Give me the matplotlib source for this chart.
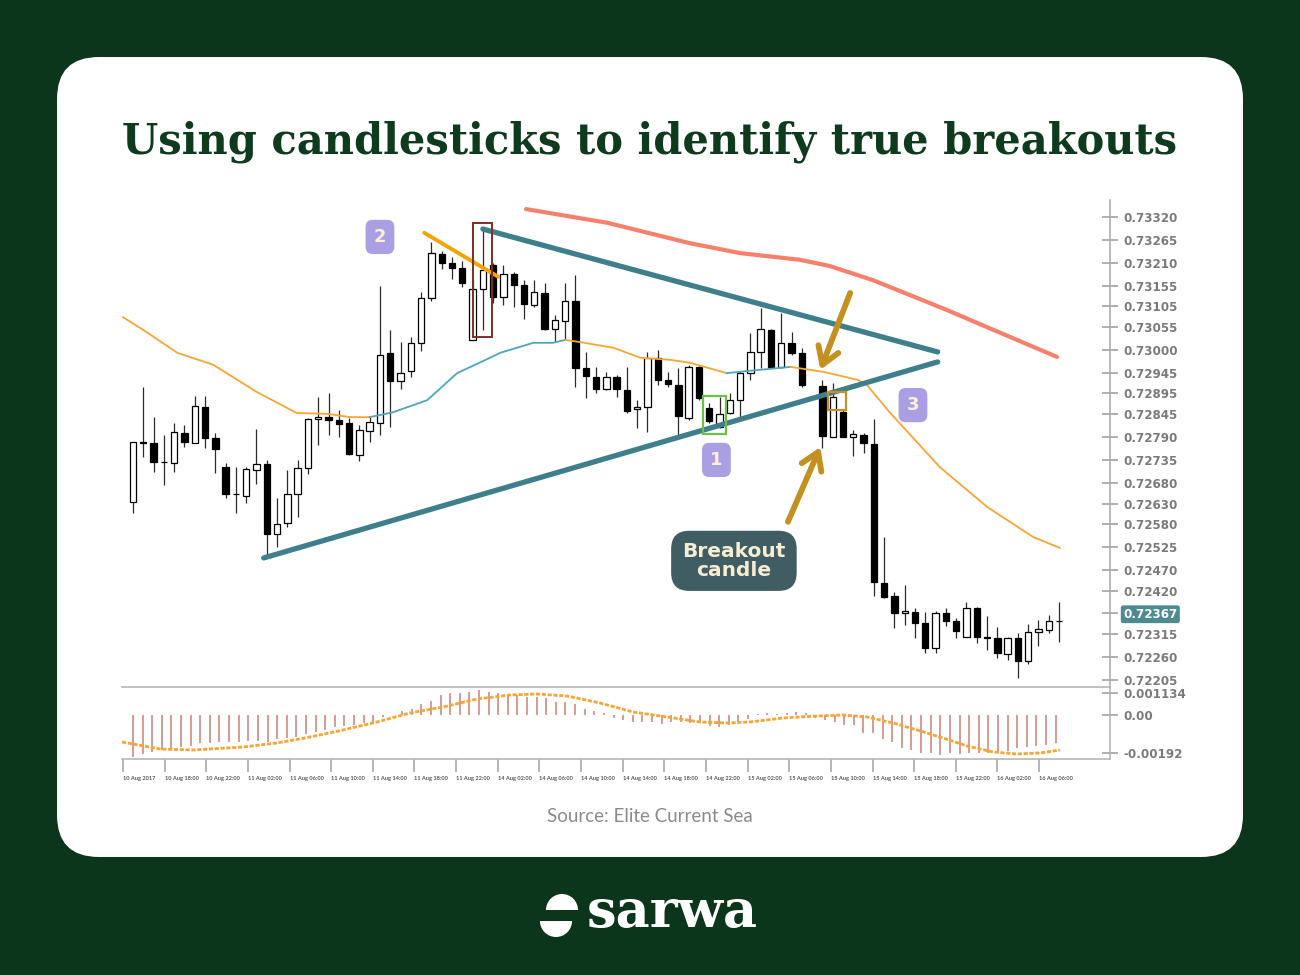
import numpy as np
import matplotlib
matplotlib.use('Agg')
import matplotlib.pyplot as plt
from matplotlib.patches import FancyBboxPatch, Rectangle, Wedge

# ---------------- data ----------------
nan = np.nan
opens = [0.72634, 0.72778, 0.72776, 0.72730, 0.72728, 0.72800, 0.72776, 0.72863, 0.72788, 0.72718,
         0.72653, 0.72648, 0.72711, 0.72725, 0.72557, 0.72583, 0.72653, 0.72716, 0.72834, 0.72838,
         0.72831, 0.72824, 0.72747, 0.72805, 0.72824, 0.72993, 0.72925, 0.72949, 0.73017, 0.73125,
         0.73231, 0.73209, 0.73197, 0.73024, 0.73147, 0.73204, 0.73127, 0.73183, 0.73156, 0.73108,
         0.73137, 0.73050, 0.73070, 0.73118, 0.72956, 0.72935, 0.72906, 0.72935, 0.72903, 0.72858,
         0.72863, 0.72981, 0.72928, 0.72916, 0.72836, 0.72959, 0.72860, 0.72814, 0.72848, 0.72879,
         0.72944, 0.72995, 0.73048, 0.72959, 0.73017, 0.72993, nan, 0.72913, 0.72790, 0.72850,
         0.72790, 0.72795, 0.72773, 0.72439, 0.72407, 0.72366, 0.72369, 0.72342, 0.72282, 0.72366,
         0.72347, 0.72309, 0.72379, 0.72309, 0.72306, 0.72268, 0.72306, 0.72251, 0.72321, 0.72326,
         0.72347]
highs = [0.72778, 0.72911, 0.72838, 0.72795, 0.72824, 0.72819, 0.72889, 0.72889, 0.72800, 0.72728,
         0.72718, 0.72718, 0.72810, 0.72735, 0.72643, 0.72711, 0.72735, 0.72836, 0.72887, 0.72896,
         0.72855, 0.72836, 0.72819, 0.72838, 0.73154, 0.73048, 0.73019, 0.73031, 0.73139, 0.73260,
         0.73238, 0.73224, 0.73214, 0.73168, 0.73294, 0.73209, 0.73204, 0.73188, 0.73168, 0.73168,
         0.73161, 0.73084, 0.73161, 0.73180, 0.72995, 0.72959, 0.72947, 0.72940, 0.72959, 0.72879,
         0.72995, 0.73000, 0.72947, 0.72956, 0.72964, 0.72960, 0.72872, 0.72887, 0.72896, 0.72949,
         0.73041, 0.73101, 0.73050, 0.73089, 0.73043, 0.73005, nan, 0.72928, 0.72920, 0.72855,
         0.72807, 0.72800, 0.72834, 0.72549, 0.72417, 0.72434, 0.72379, 0.72369, 0.72371, 0.72379,
         0.72354, 0.72393, 0.72381, 0.72359, 0.72333, 0.72309, 0.72318, 0.72340, 0.72350, 0.72362,
         0.72393]
lows = [0.72607, 0.72742, 0.72706, 0.72675, 0.72706, 0.72766, 0.72776, 0.72764, 0.72704, 0.72643,
        0.72607, 0.72631, 0.72677, 0.72499, 0.72525, 0.72574, 0.72598, 0.72701, 0.72771, 0.72795,
        0.72790, 0.72747, 0.72733, 0.72778, 0.72795, 0.72814, 0.72906, 0.72935, 0.72997, 0.73118,
        0.73195, 0.73171, 0.73151, 0.73024, 0.73048, 0.73113, 0.73108, 0.73103, 0.73074, 0.73103,
        0.73048, 0.73019, 0.73024, 0.72911, 0.72884, 0.72896, 0.72903, 0.72887, 0.72848, 0.72812,
        0.72802, 0.72916, 0.72911, 0.72795, 0.72831, 0.72879, 0.72824, 0.72812, 0.72846, 0.72838,
        0.72928, 0.72956, 0.72959, 0.72956, 0.72988, 0.72911, nan, 0.72764, 0.72790, 0.72790,
        0.72745, 0.72752, 0.72407, 0.72403, 0.72330, 0.72338, 0.72306, 0.72270, 0.72270, 0.72335,
        0.72306, 0.72309, 0.72294, 0.72277, 0.72258, 0.72253, 0.72210, 0.72244, 0.72287, 0.72318,
        0.72297]
closes = [0.72778, 0.72776, 0.72730, 0.72729, 0.72802, 0.72778, 0.72865, 0.72788, 0.72761, 0.72653,
          0.72652, 0.72713, 0.72725, 0.72557, 0.72581, 0.72653, 0.72716, 0.72834, 0.72838, 0.72831,
          0.72822, 0.72749, 0.72807, 0.72826, 0.72988, 0.72925, 0.72944, 0.73017, 0.73125, 0.73233,
          0.73209, 0.73197, 0.73161, 0.73147, 0.73192, 0.73127, 0.73183, 0.73156, 0.73111, 0.73139,
          0.73050, 0.73072, 0.73118, 0.72956, 0.72937, 0.72906, 0.72935, 0.72906, 0.72853, 0.72863,
          0.72981, 0.72928, 0.72918, 0.72841, 0.72959, 0.72884, 0.72829, 0.72846, 0.72879, 0.72944,
          0.72995, 0.73050, 0.72959, 0.73017, 0.72993, 0.72916, nan, 0.72793, 0.72887, 0.72790,
          0.72798, 0.72776, 0.72441, 0.72405, 0.72366, 0.72371, 0.72342, 0.72282, 0.72366, 0.72347,
          0.72323, 0.72379, 0.72309, 0.72307, 0.72270, 0.72306, 0.72251, 0.72321, 0.72328, 0.72347,
          0.72346]

# moving average (short) - positions in candle slots
ma_x = [-1.0, 1.0, 4.3, 7.8, 12.0, 15.9, 18.9, 21.1, 23.0, 25.3, 28.6, 31.5, 34.7, 35.7, 38.9, 40.8,
        42.0, 43.4, 46.7, 49.3, 52.2, 54.1, 57.7, 60.9, 63.9, 67.1, 70.4, 71.3, 73.6, 78.4, 83.0,
        87.5, 90.1]
ma_y = [0.73079, 0.73048, 0.72993, 0.72964, 0.72899, 0.72848, 0.72846, 0.72838, 0.72838, 0.72850,
        0.72879, 0.72944, 0.72981, 0.72993, 0.73017, 0.73017, 0.73024, 0.73019, 0.73005, 0.72981,
        0.72976, 0.72969, 0.72944, 0.72952, 0.72959, 0.72947, 0.72928, 0.72916, 0.72848, 0.72718,
        0.72622, 0.72549, 0.72523]
ma_runs = [(0, 8, 'orange'), (8, 16, 'blue'), (16, 22, 'orange'), (22, 24, 'blue'), (24, 32, 'orange')]

# long moving average
lma_x = [38.2, 46.1, 54.1, 59.0, 64.8, 67.7, 71.9, 79.1, 84.3, 89.8]
lma_y = [0.73339, 0.73306, 0.73257, 0.73233, 0.73217, 0.73202, 0.73168, 0.73096, 0.73041, 0.72983]

# triangle trend lines
upper_x = [34.0, 78.2]
upper_y = [0.73291, 0.72995]
lower_x = [12.7, 78.2]
lower_y = [0.72499, 0.72971]
short_x = [28.3, 35.5]
short_y = [0.73282, 0.73176]

# oscillator histogram and signal line
osc = [-2.138, -1.985, -1.883, -1.782, -1.680, -1.629, -1.578, -1.425, -1.425, -1.374,
       -1.374, -1.374, -1.323, -1.323, -1.350, -1.222, -1.171, -1.120, -0.967, -0.865,
       -0.764, -0.611, -0.560, -0.509, -0.407, -0.356, -0.102, 0.020, 0.204, 0.305,
       0.560, 0.713, 1.018, 1.120, 1.120, 1.171, 1.273, 1.171, 1.120, 1.069,
       1.018, 0.916, 0.916, 0.865, 0.662, 0.662, 0.560, 0.305, 0.204, 0.102,
       -0.153, -0.255, -0.356, -0.356, -0.356, -0.458, -0.356, -0.356, -0.407, -0.407,
       -0.560, -0.611, -0.509, -0.356, -0.204, 0.051, 0.102, 0.030, 0.102, 0.153,
       0.102, -0.153, -0.255, -0.356, -0.509, -0.509, -0.916, -0.916, -1.222, -1.374,
       -1.680, -1.782, -1.934, -1.934, -2.036, -1.934, -1.985, -1.934, -1.934, -1.934,
       -1.883, -1.832, -1.680, -1.629, -1.578, -1.527, -1.425]
sig_x = [-1.14, 2.81, 6.24, 11.45, 14.98, 18.42, 21.85, 25.39, 28.82, 32.26, 35.80, 39.23, 42.04,
         45.16, 48.60, 52.03, 55.57, 59.00, 61.81, 64.20, 67.64, 71.18, 73.88, 76.38, 79.08, 81.58,
         84.29, 86.78, 89.49, 91.99, 94.38, 96.46]
sig_y = [-1.374, -1.731, -1.782, -1.629, -1.425, -1.120, -0.764, -0.356, 0.102, 0.407, 0.814, 1.018,
         1.069, 0.967, 0.611, 0.153, -0.102, -0.356, -0.407, -0.356, -0.153, -0.051, 0.0, -0.102,
         -0.407, -0.764, -1.171, -1.578, -1.883, -1.985, -1.934, -1.782]

price_ticks = [0.73320, 0.73265, 0.73210, 0.73155, 0.73105, 0.73055, 0.73000, 0.72945, 0.72895,
               0.72845, 0.72790, 0.72735, 0.72680, 0.72630, 0.72580, 0.72525, 0.72470, 0.72420,
               0.72367, 0.72315, 0.72260, 0.72205]
last_price = 0.72367
osc_ticks = [0.001134, 0.0, -0.00192]
osc_labels = ['0.001134', '0.00', '-0.00192']
time_labels = ['10 Aug 2017', '10 Aug 18:00', '10 Aug 22:00', '11 Aug 02:00', '11 Aug 06:00',
               '11 Aug 10:00', '11 Aug 14:00', '11 Aug 18:00', '11 Aug 22:00', '14 Aug 02:00',
               '14 Aug 06:00', '14 Aug 10:00', '14 Aug 14:00', '14 Aug 18:00', '14 Aug 22:00',
               '15 Aug 02:00', '15 Aug 06:00', '15 Aug 10:00', '15 Aug 14:00', '15 Aug 18:00',
               '15 Aug 22:00', '16 Aug 02:00', '16 Aug 06:00']

# ---------------- styling ----------------
BG = '#0b361c'
TITLE_C = '#0e3a1e'
ORANGE = '#f7a534'
BLUE = '#4ea6b8'
TEAL = '#3f7f8b'
SALMON = '#f5806c'
GOLD = '#c4901f'
PURPLE = '#aa9fe2'
CREAM = '#fbf0d4'

fig = plt.figure(figsize=(13, 9.75), dpi=100)
fig.patch.set_facecolor(BG)

def px(x, y):
    return (x / 100.0, (975 - y) / 100.0)

card = FancyBboxPatch(px(57, 857), 11.86, 8.0, boxstyle='round,pad=0,rounding_size=0.42',
                      transform=fig.dpi_scale_trans, fc='white', ec='none', zorder=-10)
fig.add_artist(card)

fig.text(0.5, 1 - 142 / 975, 'Using candlesticks to identify true breakouts', ha='center',
         va='center', fontsize=30, fontweight='bold', family='DejaVu Serif', color=TITLE_C)
fig.text(0.5, 1 - 817 / 975, 'Source: Elite Current Sea', ha='center', va='center',
         fontsize=13.5, family='Lato', color='#8a8a8a')

# logo
w1 = Wedge(px(562, 910), 0.16, 0, 180, transform=fig.dpi_scale_trans, fc='white', ec='none')
w2 = Wedge(px(556, 921), 0.16, 180, 360, transform=fig.dpi_scale_trans, fc='white', ec='none')
for a in (w1, w2):
    fig.add_artist(a)
fig.text(672 / 1300, 1 - 912 / 975, 'sarwa', ha='center', va='center', fontsize=38,
         fontweight='bold', family='DejaVu Serif', color='white')

# ---------------- main price axes ----------------
ax = fig.add_axes([122 / 1300, (975 - 687) / 975, 988 / 1300, 487 / 975])
ax.set_facecolor('none')
ax.set_xlim(-1.07, 94.95)
ax.set_ylim(0.721882, 0.733609)

o = np.array(opens); h = np.array(highs); l = np.array(lows); c = np.array(closes)
xs = np.arange(len(o))
ok = ~np.isnan(o)
ax.vlines(xs[ok], l[ok], h[ok], color='#2a2a2a', lw=0.9, zorder=2)
bottoms = np.minimum(o, c)
heights = np.maximum(np.abs(c - o), 0.000012)
colors = np.where(c >= o, 'white', 'black')
ax.bar(xs[ok], heights[ok], bottom=bottoms[ok], width=0.62, color=colors[ok],
       edgecolor='black', linewidth=0.9, zorder=3)

# moving averages
run_col = {'orange': ORANGE, 'blue': BLUE}
for s, e, col in ma_runs:
    ax.plot(ma_x[s:e + 1], ma_y[s:e + 1], color=run_col[col], lw=1.3, zorder=4,
            solid_capstyle='round')
ax.plot(lma_x, lma_y, color=SALMON, lw=3, zorder=4, solid_capstyle='round')

# trend lines
ax.plot(upper_x, upper_y, color=TEAL, lw=3.8, zorder=5, solid_capstyle='round')
ax.plot(lower_x, lower_y, color=TEAL, lw=3.8, zorder=5, solid_capstyle='round')
ax.plot(short_x, short_y, color='#f5a300', lw=2.8, zorder=5, solid_capstyle='round')

# highlight boxes
ax.add_patch(Rectangle((33.04, 0.730310), 1.85, 0.733056 - 0.730310, fill=False,
                       ec='#7d2f24', lw=1.4, zorder=6))
ax.add_patch(Rectangle((55.39, 0.727975), 2.24, 0.728890 - 0.727975, fill=False,
                       ec='#6cc04a', lw=1.6, zorder=6))
ax.add_patch(Rectangle((67.5, 0.728553), 1.75, 0.728986 - 0.728553, fill=False,
                       ec='#c8902a', lw=1.6, zorder=6))

# number labels
for num, xx, yy in [('2', 24.0, 0.73272), ('1', 56.7, 0.72735), ('3', 75.8, 0.72867)]:
    ax.text(xx, yy, num, ha='center', va='center', fontsize=13, fontweight='bold',
            family='DejaVu Sans', color=CREAM, zorder=8,
            bbox=dict(boxstyle='round,pad=0.45,rounding_size=0.4', fc=PURPLE, ec='none'))

ax.text(58.4, 0.72492, 'Breakout\ncandle', ha='center', va='center', fontsize=14.5,
        fontweight='bold', family='DejaVu Sans', color='#f6edd3', linespacing=1.0, zorder=8,
        bbox=dict(boxstyle='round,pad=0.55,rounding_size=0.9', fc='#3f5d62', ec='none'))

# arrows
aprops = dict(arrowstyle='->,head_length=0.55,head_width=0.35', lw=4.2, color=GOLD,
              shrinkA=0, shrinkB=0, mutation_scale=22)
ax.annotate('', xy=(66.8, 0.72952), xytext=(69.7, 0.73137), arrowprops=aprops, zorder=7)
ax.annotate('', xy=(66.8, 0.72766), xytext=(63.65, 0.72586), arrowprops=aprops, zorder=7)

# axes styling
for sp in ['top', 'left', 'bottom']:
    ax.spines[sp].set_visible(False)
ax.spines['right'].set_color('#a8a8a8')
ax.spines['right'].set_linewidth(1.1)
ax.set_xticks([])
ax.yaxis.tick_right()
ax.set_yticks(price_ticks, labels=[f'{v:.5f}' for v in price_ticks])
ax.tick_params(axis='y', direction='inout', length=11, width=1.1, color='#9a9a9a',
               labelsize=8.6, labelcolor='#7a7a7a', pad=4)
for lab in ax.get_yticklabels():
    lab.set_fontweight('semibold')
for t in ax.yaxis.get_major_ticks():
    if t.label2.get_text() == f'{last_price:.5f}':
        t.label2.set_color('white')
        t.label2.set_bbox(dict(boxstyle='round,pad=0.2,rounding_size=0.2', fc='#4d8b90',
                               ec='none'))

# ---------------- oscillator axes ----------------
ax2 = fig.add_axes([122 / 1300, (975 - 759) / 975, 988 / 1300, 72 / 975])
ax2.set_facecolor('none')
ax2.set_xlim(-1.145, 101.66)
ax2.set_ylim(-0.002240, 0.001425)
osc_v = np.array(osc) * 1e-3
ax2.vlines(np.arange(len(osc_v)), 0, osc_v, color='#cf948a', lw=1.3, zorder=2)
ax2.plot(sig_x, np.array(sig_y) * 1e-3, color=ORANGE, lw=2.0, ls=(0, (1.5, 0.6)), zorder=3)
ax2.spines['left'].set_visible(False)
for sp in ['top', 'bottom', 'right']:
    ax2.spines[sp].set_color('#b0b0b0')
    ax2.spines[sp].set_linewidth(1.1)
ax2.set_xticks([])
ax2.yaxis.tick_right()
ax2.set_yticks(osc_ticks, labels=osc_labels)
ax2.tick_params(axis='y', direction='inout', length=11, width=1.1, color='#9a9a9a',
                labelsize=8.6, labelcolor='#7a7a7a', pad=4)
for lab in ax2.get_yticklabels():
    lab.set_fontweight('semibold')

# time axis
ax3 = ax2.twiny()
ax3.set_xlim(-0.096, 94.81)
ax3.xaxis.set_ticks_position('bottom')
ax3.xaxis.set_label_position('bottom')
for sp in ax3.spines.values():
    sp.set_visible(False)
ax3.set_xticks(np.arange(len(time_labels)) * 4, labels=time_labels)
ax3.tick_params(axis='x', direction='out', length=9, width=1.4, color='#b5b5b5',
                labelsize=4.1, labelcolor='#555555', pad=3)
for lab in ax3.get_xticklabels():
    lab.set_ha('left')
    lab.set_fontweight('bold')
    lab.set_family('Lato')

fig.savefig('out.png', dpi=100, facecolor=BG)
